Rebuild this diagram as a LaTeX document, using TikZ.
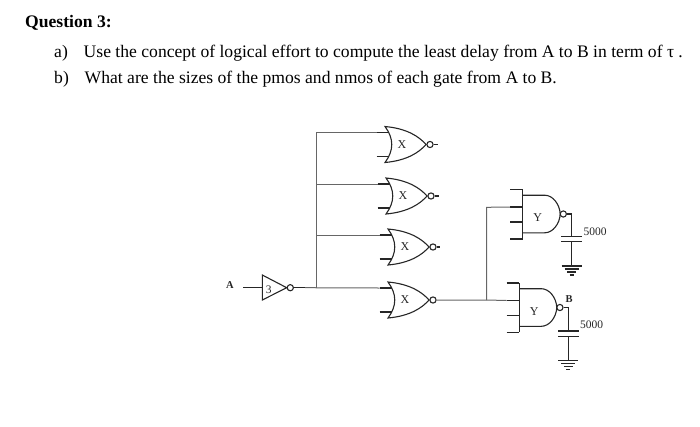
\documentclass[tikz,border=0pt]{standalone}
\usepackage{fontspec}
\setmainfont{Liberation Serif}
\newcommand{\NorGate}[4]{% name, x(left top of body), y(tip), label
  \begin{scope}[shift={(#2,#3)}]
    \draw[gate] (0,-18) .. controls (22,-16) and (34,-8) .. (41,0) .. controls (34,8) and (22,16) .. (0,18) .. controls (9,6) and (9,-6) .. (0,-18) -- cycle;
    \node[bubble] (#1b) at (45,0) {};
    \coordinate (#1i1) at (-8.5,-12);
    \coordinate (#1i2) at (-8.5,12);
    \coordinate (#1p1) at (3.5,-12);
    \coordinate (#1p2) at (3.5,12);
    \draw[gate] (#1i1) -- (#1p1);
    \draw[gate] (#1i2) -- (#1p2);
    \node[gatelabel] (#1l) at (17,0) {#4};
  \end{scope}}
\newcommand{\NandGate}[3]{% name, x(bar), y(centre)
  \begin{scope}[shift={(#2,#3)}]
    \draw[gate] (0,-24.5) -- (0,24.5);
    \draw[gate] (0,-18.8) -- (22,-18.8) .. controls (30,-18.8) and (37,-10) .. (37.5,0) .. controls (37,10) and (30,18.8) .. (22,18.8) -- (0,18.8);
    \node[bubble] (#1b) at (40.6,0) {};
    \coordinate (#1i1) at (-12.7,-24.5);
    \coordinate (#1i2) at (-12.7,-7);
    \coordinate (#1i3) at (-12.7,8);
    \coordinate (#1i4) at (-12.7,25);
    \foreach \yy [count=\k] in {-24.5,-7,8,25}{\coordinate (#1p\k) at (0,\yy);
      \draw[gate] (#1i\k) -- (#1p\k);}
    \node[gatelabel] (#1l) at (15,4) {Y};
  \end{scope}}
\newcommand{\LoadCap}[4]{% name, x, y plate top, y ground
  \begin{scope}[shift={(#2,#3)}]
    \coordinate (#1t) at (0,0);
    \coordinate (#1u) at (0,5.2);
    \coordinate (#1g) at (0,#4);
    \draw[gate] (-10.2,0) -- (10.2,0);
    \draw[gate] (-10.2,5.2) -- (10.2,5.2);
    \draw[gate] (#1u) -- (#1g);
    \draw[gate] (-10,#4) -- (10,#4);
    \draw[gate] (-7,#4+3) -- (7,#4+3);
    \draw[gate] (-4.5,#4+6) -- (4.5,#4+6);
    \draw[gate] (-2,#4+9) -- (2,#4+9);
  \end{scope}}
\tikzset{
  gate/.style={draw=black!85,line width=1.1pt},
  wire/.style={draw=black!60,line width=1pt},
  bubble/.style={circle,draw=black!85,line width=1.1pt,fill=white,minimum size=6.2pt,inner sep=0pt},
  gatelabel/.style={font=\fontsize{12}{14}\selectfont,text=black!85,inner sep=0pt},
  small/.style={font=\fontsize{11.5}{13}\selectfont,text=black!85,inner sep=0pt},
  para/.style={font=\fontsize{17.6}{20}\selectfont,anchor=base west,inner sep=0pt},
}
\begin{document}
\begin{tikzpicture}[x=1pt,y=-1pt]
\useasboundingbox (0,0) rectangle (700,426);
\node[para,font=\fontsize{17.6}{20}\selectfont\bfseries] (title) at (25,27) {Question 3:};
\node[para] (qa) at (54,57.5) {a)\hspace{0.9em}Use the concept of logical effort to compute the least delay from A to B in term of τ .};
\node[para] (qb) at (54,83) {b)\hspace{0.9em}What are the sizes of the pmos and nmos of each gate from A to B.};

% inverter
\draw[gate] (262.3,275) -- (262.3,300) -- (286.7,287.7) -- cycle;
\node[bubble] (invb) at (290.3,287.7) {};
\coordinate (invi) at (243.3,287.7);
\coordinate (invp) at (262.3,287.7);
\coordinate (invo) at (305,287.7);
\draw[gate] (invi) -- (invp);
\draw[gate] (invb) -- (invo);
\node[small,font=\fontsize{10.5}{12}\selectfont\bfseries] (lA) at (230,285) {A};
\node[small] (l3) at (268.8,289.5) {3};

% NOR gates
\NorGate{na}{385}{144.5}{X}
\NorGate{nb}{386}{196}{X}
\NorGate{nc}{388}{247}{X}
\NorGate{nd}{388}{300}{X}
\coordinate (nae) at (438,144.5);
\coordinate (nbe) at (439,196);
\coordinate (nce) at (440,247);
\draw[gate] (nab) -- (nae);
\draw[gate] (nbb) -- (nbe);
\draw[gate] (ncb) -- (nce);

% NAND gates
\NandGate{ya}{522.7}{214}
\NandGate{yb}{519.3}{307.5}

% loads
\LoadCap{ca}{571.5}{236.5}{29.5}
\LoadCap{cb}{568.3}{331}{29.5}
\draw[gate] (yab) -| (cat);
\draw[gate] (ybb) -| (cbt);
\node[small] (la) at (595,231.7) {5000};
\node[small] (lb) at (591.7,325) {5000};
\node[small,font=\fontsize{10.5}{12}\selectfont\bfseries] (lB) at (569,299.5) {B};

% wires
\coordinate (bus) at (316,287.7);
\coordinate (busa) at (316,132.5);
\coordinate (busb) at (316,184);
\coordinate (busc) at (316,235);
\draw[wire] (invo) -- (ndi1);
\draw[wire] (bus) -- (busa) -- (nai1);
\draw[wire] (busb) -- (nbi1);
\draw[wire] (busc) -- (nci1);
\coordinate (yj) at (486.7,300);
\coordinate (yk) at (486.7,207.3);
\draw[wire] (ndb.east) -- (yj) -- (ybi2);
\draw[wire] (yj) -- (yk) -- (yai2);
\end{tikzpicture}
\end{document}
